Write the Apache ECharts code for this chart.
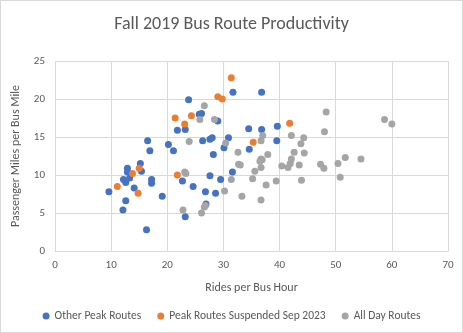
<!DOCTYPE html>
<html><head><meta charset="utf-8">
<script src="https://cdn.jsdelivr.net/npm/echarts@6/dist/echarts.min.js"></script>
<style>html,body{margin:0;padding:0;background:#fff}#c{width:463px;height:333px;box-sizing:border-box;border:1px solid #d9d9d9}</style>
</head><body><div id="c"></div>
<script>
const title = "Fall 2019 Bus Route Productivity";
const xName = "Rides per Bus Hour";
const yName = "Passenger Miles per Bus Mile";
const seriesNames = ["Other Peak Routes", "Peak Routes Suspended Sep 2023", "All Day Routes"];
const colors = ["#4472C4", "#ED7D31", "#A5A5A5"];
const otherPeak = [
 [23.8,19.9],[25.7,18.0],[21.8,15.9],[23.2,16.0],[16.5,14.5],[16.9,13.2],[20.2,14.0],[21.1,13.2],
 [15.2,11.5],[15.4,10.5],[12.9,10.9],[12.9,10.4],[13.3,9.6],[12.2,9.4],[12.6,9.0],[14.1,8.3],
 [17.2,9.4],[17.2,8.9],[9.6,7.8],[12.6,6.6],[12.1,5.4],[19.1,7.2],[22.7,9.2],[24.6,8.5],
 [23.2,4.5],[16.3,2.8],[31.7,20.9],[36.8,20.9],[26.1,18.1],[29.0,17.1],[34.5,16.1],[36.8,16.0],
 [39.6,16.4],[26.3,14.5],[27.6,14.7],[28.0,14.9],[30.9,14.9],[30.1,13.6],[28.2,12.7],[34.6,13.4],
 [39.5,14.5],[31.6,10.4],[27.6,9.9],[29.5,9.4],[26.8,7.8],[28.6,7.6],[26.9,6.2]
];
const suspended = [
 [21.4,17.5],[23.1,16.7],[24.3,17.8],[15.0,10.9],[13.8,10.2],[11.1,8.5],[14.8,7.6],[21.8,10.0],
 [31.4,22.8],[29.0,20.3],[29.8,20.0],[35.3,14.3],[41.8,16.8]
];
const allDay = [
 [25.8,17.3],[23.9,14.4],[23.1,10.4],[23.3,10.2],[22.8,5.4],[26.6,19.1],[28.4,17.3],[36.7,14.5],
 [37.0,15.2],[30.4,14.2],[32.6,13.0],[37.9,12.7],[32.7,11.4],[33.0,11.3],[36.7,12.1],[36.9,12.0],
 [36.5,11.8],[36.7,11.0],[35.6,10.5],[35.2,9.5],[31.4,9.4],[30.2,7.9],[33.3,7.2],[37.6,8.7],
 [36.7,6.7],[39.4,9.2],[26.6,5.8],[26.8,6.0],[26.1,5.0],[42.1,15.2],[44.3,14.9],[43.8,14.1],
 [42.6,13.0],[42.1,12.1],[41.9,11.5],[41.5,11.0],[40.4,11.2],[43.5,11.3],[44.4,12.9],[43.9,9.3],
 [48.3,18.3],[48.0,15.7],[47.3,11.4],[47.9,10.9],[50.4,11.5],[51.7,12.3],[54.5,12.1],[50.8,9.7],
 [58.7,17.3],[60.0,16.7]
];
const seriesData = [otherPeak, suspended, allDay];
const font = "Calibri, Carlito, 'Liberation Sans', sans-serif";
const txt = "#595959";
const chart = echarts.init(document.getElementById('c'), null, {renderer:'canvas'});
chart.setOption({
  animation:false,
  title:{text:title,left:'center',top:9,textStyle:{fontFamily:font,fontSize:18,fontWeight:'normal',color:txt}},
  grid:{left:54,right:14,top:60,bottom:81,containLabel:false},
  xAxis:{type:'value',min:0,max:70,interval:10,name:xName,nameLocation:'middle',nameGap:31,
    nameTextStyle:{fontFamily:font,fontSize:12,color:txt},
    axisLine:{show:true,lineStyle:{color:'#d9d9d9'}},axisTick:{show:false},
    axisLabel:{fontFamily:font,fontSize:11,color:txt,margin:9},
    splitLine:{show:true,lineStyle:{color:'#d9d9d9'}}},
  yAxis:{type:'value',min:0,max:25,interval:5,name:yName,nameLocation:'middle',nameGap:33,
    nameTextStyle:{fontFamily:font,fontSize:12,color:txt},
    axisLine:{show:false},axisTick:{show:false},
    axisLabel:{fontFamily:font,fontSize:11,color:txt,margin:10},
    splitLine:{show:true,lineStyle:{color:'#d9d9d9'}}},
  legend:{bottom:5,left:'center',itemWidth:7,itemHeight:7,itemGap:16,icon:'circle',
    textStyle:{fontFamily:font,fontSize:11.5,color:txt},data:seriesNames},
  series:seriesNames.map((n,i)=>({name:n,type:'scatter',data:seriesData[i],symbol:'circle',symbolSize:7,
    itemStyle:{color:colors[i],opacity:1}}))
});
</script></body></html>
